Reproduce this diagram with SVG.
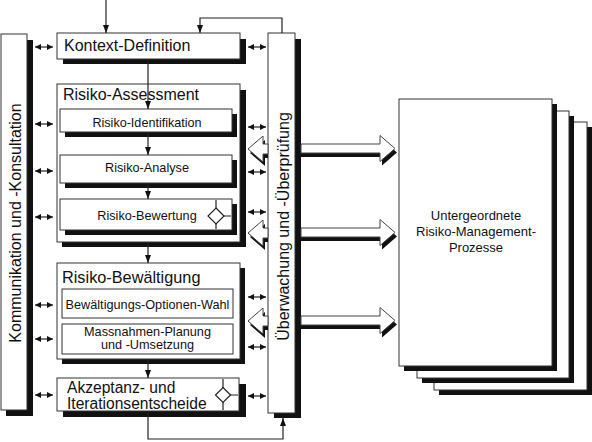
<svg xmlns="http://www.w3.org/2000/svg" width="592" height="442" viewBox="0 0 592 442">
<defs>
<style>
.box{fill:#fff;stroke:#333;stroke-width:1}
.sh{fill:#111;stroke:none}
.t{font-family:"Liberation Sans",Arial,sans-serif;fill:#111}
.ln{stroke:#222;stroke-width:1.2;fill:none}
.dl{stroke:#222;stroke-width:1.2;fill:none;marker-start:url(#sa);marker-end:url(#sa)}
.fl{stroke:#222;stroke-width:1.2;fill:none;marker-end:url(#fa)}
.big{fill:#fff;stroke:#444;stroke-width:1}
</style>
<marker id="sa" viewBox="0 0 6 6" refX="6" refY="3" markerWidth="6" markerHeight="6" markerUnits="userSpaceOnUse" orient="auto-start-reverse"><path d="M0,0 L6,3 L0,6 z" fill="#111"/></marker>
<marker id="fa" viewBox="0 0 8 6" refX="8" refY="3" markerWidth="8" markerHeight="6" markerUnits="userSpaceOnUse" orient="auto"><path d="M0,0 L8,3 L0,6 z" fill="#111"/></marker>
</defs>

<g id="stack">
<rect class="sh" x="439" y="127" width="153" height="268"/>
<rect class="box" x="434" y="122" width="153" height="268"/>
<rect class="sh" x="422" y="116" width="152" height="267"/>
<rect class="box" x="417" y="111" width="152" height="267"/>
<rect class="sh" x="404" y="104" width="153" height="267"/>
<rect class="box" x="399" y="99" width="153" height="267"/>
<text class="t" font-size="13" text-anchor="middle"><tspan x="476" y="220">Untergeordnete</tspan><tspan x="476" y="236">Risiko-Management-</tspan><tspan x="476" y="252">Prozesse</tspan></text>
</g>

<g id="kommunikation">
<rect class="sh" x="6" y="40" width="27" height="376"/>
<rect class="box" x="1" y="34" width="26" height="376"/>
<text class="t" font-size="16" text-anchor="middle" transform="translate(21,223) rotate(-90)">Kommunikation und -Konsultation</text>
</g>

<g id="ueberwachung">
<rect class="sh" x="274" y="39" width="27" height="379"/>
<rect class="box" x="268" y="33" width="27" height="380"/>
<text class="t" font-size="16" text-anchor="middle" transform="translate(289,226.5) rotate(-90)">Überwachung und -Überprüfung</text>
</g>

<g id="kontext">
<rect class="sh" x="63" y="39" width="183" height="25"/>
<rect class="box" x="57" y="33" width="183" height="26"/>
<text class="t" font-size="16" x="64" y="51">Kontext-Definition</text>
</g>

<g id="assessment">
<rect class="sh" x="62" y="90" width="184" height="157"/>
<rect class="box" x="57" y="84" width="183" height="158"/>
<text class="t" font-size="16" x="63" y="100">Risiko-Assessment</text>
</g>

<g id="identifikation">
<rect class="sh" x="65" y="114" width="172" height="23"/>
<rect class="box" x="60" y="109" width="172" height="23"/>
<text class="t" font-size="12.6" x="147" y="127" text-anchor="middle">Risiko-Identifikation</text>
</g>

<g id="analyse">
<rect class="sh" x="65" y="160" width="172" height="28"/>
<rect class="box" x="60" y="155" width="172" height="28"/>
<text class="t" font-size="12.7" x="147" y="172" text-anchor="middle">Risiko-Analyse</text>
</g>

<g id="bewertung">
<rect class="sh" x="65" y="204" width="172" height="31"/>
<rect class="box" x="60" y="199" width="172" height="31"/>
<text class="t" font-size="12.7" x="147" y="220" text-anchor="middle">Risiko-Bewertung</text>
<path class="ln" d="M216,200 V229 M216,216 H231"/>
<polygon points="216,208 224,216 216,224 208,216" fill="#fff" stroke="#222" stroke-width="1.2"/>
</g>

<g id="bewaeltigung">
<rect class="sh" x="62" y="268" width="183" height="96"/>
<rect class="box" x="57" y="263" width="183" height="96"/>
<text class="t" font-size="16.3" x="62" y="283">Risiko-Bewältigung</text>
</g>

<g id="optionen">
<rect class="box" x="62" y="289" width="171" height="29"/>
<text class="t" font-size="12.7" x="147.5" y="309" text-anchor="middle">Bewältigungs-Optionen-Wahl</text>
</g>

<g id="massnahmen">
<rect class="box" x="62" y="324" width="171" height="30"/>
<text class="t" font-size="12.7" text-anchor="middle"><tspan x="147.5" y="336">Massnahmen-Planung</tspan><tspan x="147.5" y="349">und -Umsetzung</tspan></text>
</g>

<g id="akzeptanz">
<rect class="sh" x="63" y="384" width="183" height="33"/>
<rect class="box" x="57" y="378" width="182" height="33"/>
<text class="t" font-size="15.6"><tspan x="67" y="392.5">Akzeptanz- und</tspan><tspan x="67" y="408.5">Iterationsentscheide</tspan></text>
<path class="ln" d="M223,379 V410 M223,395 H238"/>
<polygon points="223,387.5 230.5,395 223,402.5 215.5,395" fill="#fff" stroke="#222" stroke-width="1.2"/>
</g>

<g id="connectors">
<g id="big-arrows">
<polygon class="sh" points="301,148 382,148 382,139.5 397,152.5 382,165.5 382,157 301,157"/>
<polygon class="big" points="301,144 380,144 380,135.5 395,148.5 380,161.5 380,153 301,153"/>
<polygon class="sh" points="301,232 382,232 382,223.5 397,236.5 382,249.5 382,241 301,241"/>
<polygon class="big" points="301,228 380,228 380,219.5 395,232.5 380,245.5 380,237 301,237"/>
<polygon class="sh" points="301,320 382,320 382,311.5 397,324.5 382,337.5 382,329 301,329"/>
<polygon class="big" points="301,316 380,316 380,307.5 395,320.5 380,333.5 380,325 301,325"/>
<polygon class="sh" points="250,153 265,140 265,148 268,148 268,158 265,158 265,166"/>
<polygon class="big" points="248,149 263,136 263,144 268,144 268,154 263,154 263,162"/>
<polygon class="sh" points="250,237 265,224 265,232 268,232 268,242 265,242 265,250"/>
<polygon class="big" points="248,233 263,220 263,228 268,228 268,238 263,238 263,246"/>
<polygon class="sh" points="250,325 265,312 265,320 268,320 268,330 265,330 265,338"/>
<polygon class="big" points="248,321 263,308 263,316 268,316 268,326 263,326 263,334"/>
</g>
<path class="fl" d="M106,0 V33"/>
<path class="fl" d="M282,33 V18 H200 V33"/>
<path class="fl" d="M148,59 V109"/>
<path class="fl" d="M148,132 V155"/>
<path class="fl" d="M148,183 V199"/>
<path class="fl" d="M148,242 V263"/>
<path class="fl" d="M148,359 V378"/>
<path class="fl" d="M148,411 V439 H283 V418"/>
<path class="dl" d="M35,47 H53"/>
<path class="dl" d="M35,124 H53"/>
<path class="dl" d="M35,171 H53"/>
<path class="dl" d="M35,217 H53"/>
<path class="dl" d="M35,305 H53"/>
<path class="dl" d="M35,339 H53"/>
<path class="dl" d="M35,395 H53"/>
<path class="dl" d="M248,47 H266"/>
<path class="dl" d="M248,127 H266"/>
<path class="dl" d="M248,172 H266"/>
<path class="dl" d="M248,212 H266"/>
<path class="dl" d="M248,297 H266"/>
<path class="dl" d="M248,347 H266"/>
<path class="dl" d="M248,396 H266"/>
</g>
</svg>
